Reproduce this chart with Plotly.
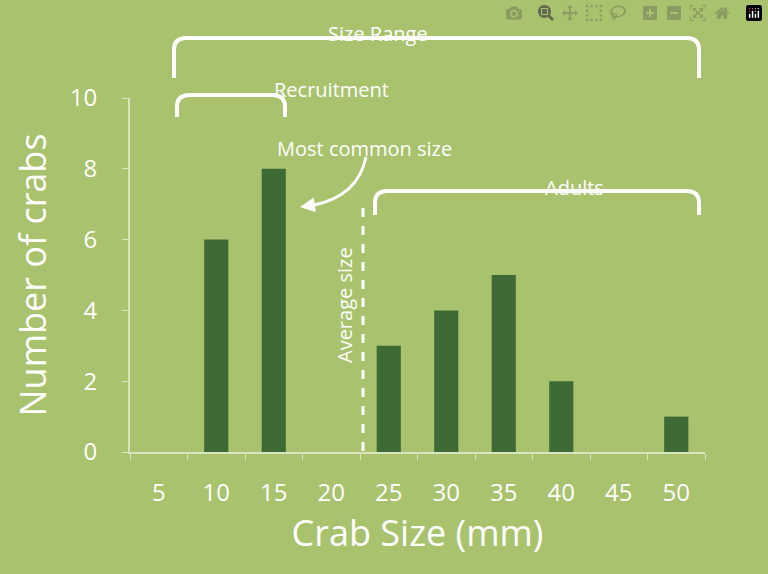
import plotly.graph_objects as go

sizes = ["5", "10", "15", "20", "25", "30", "35", "40", "45", "50"]
counts = [0, 6, 8, 0, 3, 4, 5, 2, 0, 1]

BG = "#a8c26d"
BAR = "#3e6a35"
W, H = 768, 574
L, R, T, B = 130, 705, 98, 452

def px(x): return (x - L) / (R - L)
def py(y): return (B - y) / (B - T)

fig = go.Figure(go.Bar(x=sizes, y=counts, marker=dict(color=BAR, line=dict(width=0)), width=0.42))

def bracket(x1, x2, yt, yb, r=12):
    return (f"M {px(x1)},{py(yb)} L {px(x1)},{py(yt+r)} Q {px(x1)},{py(yt)} {px(x1+r)},{py(yt)} "
            f"L {px(x2-r)},{py(yt)} Q {px(x2)},{py(yt)} {px(x2)},{py(yt+r)} L {px(x2)},{py(yb)}")

shapes = []
for (x1, x2, yt, yb) in [(174, 699, 38, 78), (177, 285, 95, 117), (375, 699, 191, 215)]:
    shapes.append(dict(type="path", xref="paper", yref="paper", path=bracket(x1, x2, yt, yb),
                       line=dict(color="white", width=4)))
shapes.append(dict(type="line", xref="paper", yref="paper", x0=px(363), x1=px(363), y0=py(208), y1=py(455),
                   line=dict(color="white", width=3, dash="dash")))
shapes.append(dict(type="path", xref="paper", yref="paper",
                   path=f"M {px(366)},{py(157)} Q {px(358)},{py(196)} {px(314)},{py(205)}",
                   line=dict(color="white", width=3)))

font = "Open Sans"
ann = [
    dict(text="Size Range", x=px(378), y=py(18)),
    dict(text="Recruitment", x=px(272), y=py(74)),
    dict(text="Most common size", x=px(364), y=py(133)),
    dict(text="Adults", x=px(606), y=py(172)),
]
annotations = [dict(xref="paper", yref="paper", showarrow=False, font=dict(color="white", size=20, family=font), **a) for a in ann]
annotations.append(dict(xref="paper", yref="paper", x=px(344), y=py(365), text="Average size", textangle=-90,
                        showarrow=False, font=dict(color="white", size=20, family=font)))
annotations.append(dict(xref="paper", yref="paper", axref="pixel", ayref="pixel", x=px(300), y=py(207), ax=14, ay=-2,
                        text="", showarrow=True, arrowhead=2, arrowsize=1, arrowwidth=3, arrowcolor="white"))

fig.update_layout(
    width=W, height=H, paper_bgcolor=BG, plot_bgcolor=BG,
    margin=dict(l=L, r=W - R, t=T, b=H - B),
    showlegend=False, shapes=shapes, annotations=annotations,
    font=dict(family=font, color="white"),
    xaxis=dict(type="category", showgrid=False, showline=True, linecolor="#d9e4bf", linewidth=2,
               ticks="outside", tickson="boundaries", tickcolor="#d9e4bf", ticklen=6,
               ticklabelstandoff=18, tickfont=dict(size=24, color="white"),
               title=dict(text="Crab Size (mm)", font=dict(size=36, color="white"), standoff=6)),
    yaxis=dict(range=[0, 10], dtick=2, showgrid=False, showline=True, linecolor="#d9e4bf", linewidth=2,
               ticks="outside", tickcolor="#d9e4bf", ticklen=6, zeroline=False,
               ticklabelstandoff=20, tickfont=dict(size=24, color="white"),
               title=dict(text="Number of crabs", font=dict(size=36, color="white"), standoff=12)),
)
fig.write_html("out.html", post_script="document.body.style.margin='0';")
